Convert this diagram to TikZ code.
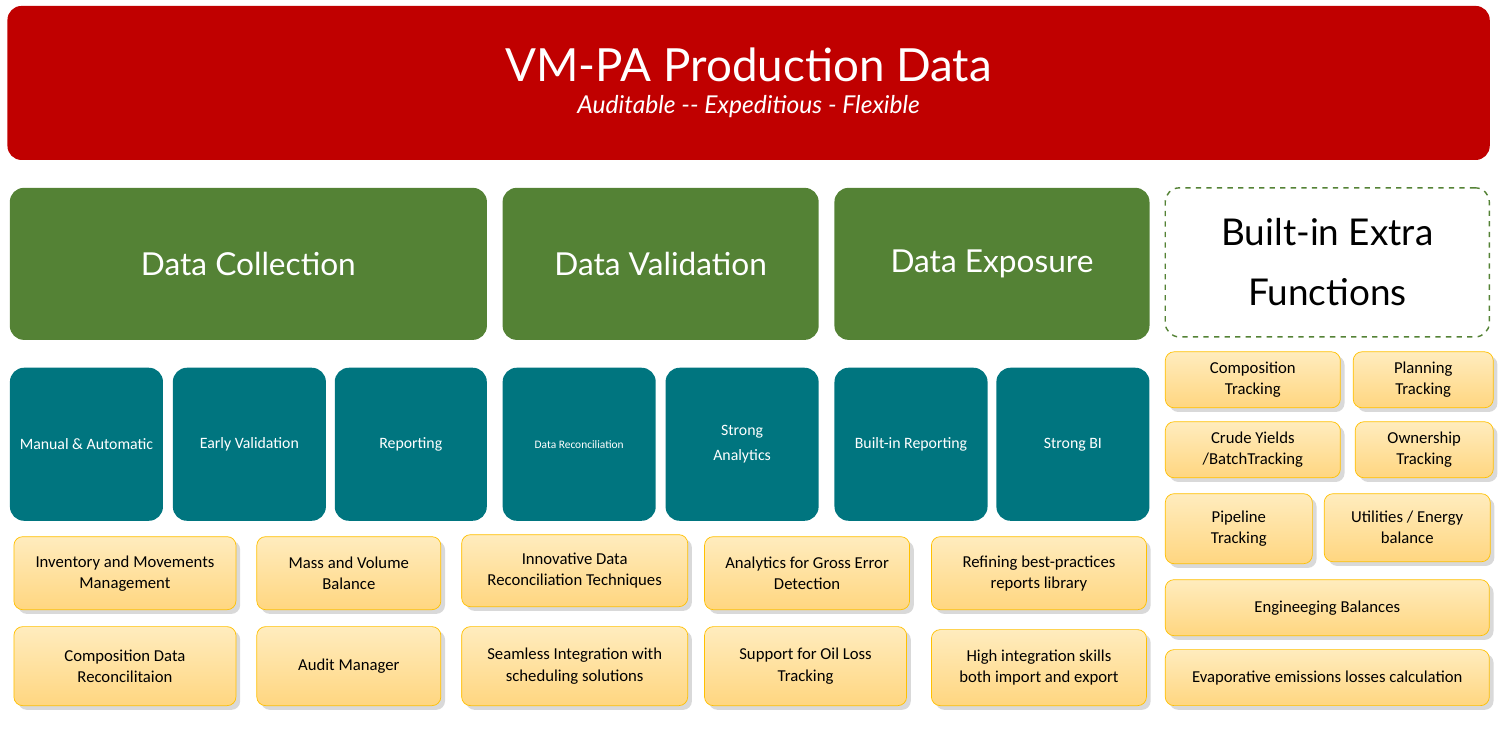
\documentclass[tikz,border=0pt]{standalone}
\usepackage{fontspec}
\setmainfont{Carlito}
\newfontfamily\headfont{Lato}
\usetikzlibrary{shadows}
\definecolor{titlered}{RGB}{192,0,0}
\definecolor{groupgreen}{RGB}{84,130,53}
\definecolor{tealbox}{RGB}{0,117,127}
\definecolor{featborder}{RGB}{255,192,0}
\definecolor{feattop}{RGB}{255,236,190}
\definecolor{featbot}{RGB}{255,214,128}
\newcommand{\pxbox}[7]{
    \node[#1, minimum width={(#5-#3)*0.02cm}, minimum height={(#6-#4)*0.02cm}]
        (#2) at ({(#3+#5)*0.01}, {-(#4+#6)*0.01}) {#7};
}
\begin{document}
\begin{tikzpicture}[
        x=1cm, y=1cm,
        title/.style={fill=titlered, rounded corners=8pt, text=white, align=center},
        group/.style={fill=groupgreen, rounded corners=8pt, text=white, align=center,
            font=\headfont\fontsize{18}{22}\selectfont},
        extra/.style={draw=groupgreen, dashed, thick, rounded corners=8pt, align=center,
            font=\headfont\fontsize{21}{34}\selectfont},
        module/.style={fill=tealbox, rounded corners=8pt, text=white, align=center,
            font=\fontsize{9}{14}\selectfont},
        feature/.style={draw=featborder, top color=feattop, bottom color=featbot,
            rounded corners=5pt, align=center, drop shadow={opacity=0.3},
            font=\fontsize{9.5}{12}\selectfont}
    ]
    \useasboundingbox (0,0) rectangle (30,-14.64);
    % banner
    \pxbox{title}{banner}{8}{6}{1490}{160}{{\headfont\fontsize{26}{30}\selectfont VM-PA Production Data}\\[6pt]
        {\headfont\itshape\fontsize{14}{17}\selectfont Auditable -- Expeditious - Flexible}}
    % groups
    \pxbox{group}{collect}{10}{188}{487}{340}{Data Collection}
    \pxbox{group}{validate}{503}{188}{819}{340}{Data Validation}
    \pxbox{group}{expose}{835}{188}{1150}{340}{Data Exposure}
    \pxbox{extra}{builtin}{1166}{188}{1490}{337}{Built-in Extra\\Functions}
    % modules
    \pxbox{module}{manual}{10}{368}{163}{521}{Manual \& Automatic}
    \pxbox{module}{early}{173}{368}{326}{521}{Early Validation}
    \pxbox{module}{reporting}{335}{368}{487}{521}{Reporting}
    \pxbox{module,font=\fontsize{6.5}{8}\selectfont}{reconcile}{503}{368}{656}{521}{Data Reconciliation}
    \pxbox{module}{analytics}{666}{368}{819}{521}{Strong\\Analytics}
    \pxbox{module}{builtinrep}{835}{368}{988}{521}{Built-in Reporting}
    \pxbox{module}{strongbi}{997}{368}{1150}{521}{Strong BI}
    % features
    \pxbox{feature}{inventory}{14}{537}{236}{610}{Inventory and Movements\\Management}
    \pxbox{feature}{massvol}{257}{537}{441}{610}{Mass and Volume\\Balance}
    \pxbox{feature}{innovative}{462}{535}{688}{607}{Innovative Data\\Reconciliation Techniques}
    \pxbox{feature}{grosserr}{705}{537}{910}{610}{Analytics for Gross Error\\Detection}
    \pxbox{feature}{library}{932}{537}{1147}{610}{Refining best-practices\\reports library}
    \pxbox{feature}{composition}{14}{627}{236}{706}{Composition Data\\Reconcilitaion}
    \pxbox{feature}{audit}{257}{627}{441}{706}{Audit Manager}
    \pxbox{feature}{seamless}{462}{627}{688}{706}{Seamless Integration with\\scheduling solutions}
    \pxbox{feature}{oilloss}{705}{627}{907}{706}{Support for Oil Loss\\Tracking}
    \pxbox{feature}{integration}{932}{630}{1147}{706}{High integration skills\\both import and export}
    % extra functions
    \pxbox{feature}{comptrack}{1166}{352}{1341}{408}{Composition\\Tracking}
    \pxbox{feature}{plantrack}{1354}{352}{1494}{408}{Planning\\Tracking}
    \pxbox{feature}{crude}{1166}{422}{1341}{478}{Crude Yields\\/BatchTracking}
    \pxbox{feature}{owner}{1356}{422}{1494}{478}{Ownership\\Tracking}
    \pxbox{feature}{pipeline}{1166}{494}{1313}{564}{Pipeline\\Tracking}
    \pxbox{feature}{utilities}{1325}{494}{1491}{562}{Utilities / Energy\\balance}
    \pxbox{feature}{engineering}{1166}{580}{1490}{636}{Engineeging Balances}
    \pxbox{feature}{evaporative}{1166}{650}{1490}{706}{Evaporative emissions losses calculation}
\end{tikzpicture}
\end{document}
